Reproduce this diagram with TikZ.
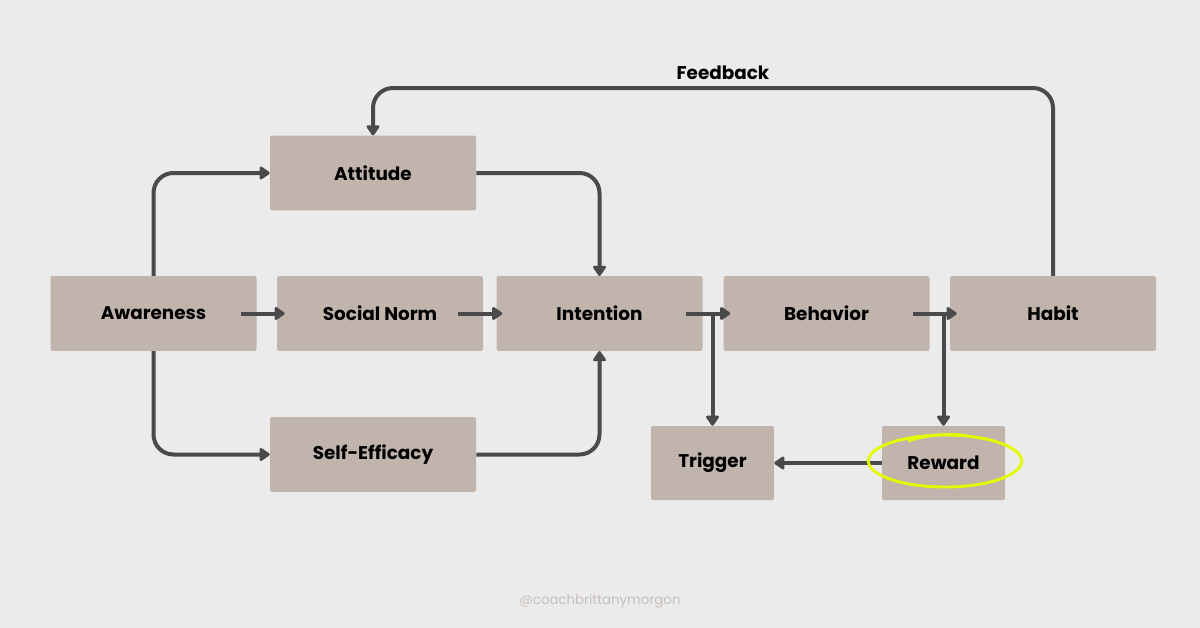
\documentclass[tikz,border=0pt]{standalone}
\usepackage{fontspec}
\setmainfont{Poppins}
\usetikzlibrary{arrows.meta,calc}
\definecolor{bg}{HTML}{EBEBEB}
\definecolor{boxc}{HTML}{C0B4AC}
\definecolor{linec}{HTML}{4A4A4A}
\definecolor{hl}{HTML}{E4FA00}
\definecolor{wm}{HTML}{C9BFB9}
\begin{document}
\begin{tikzpicture}[x=0.75pt,y=-0.75pt,
  box/.style={fill=boxc,rounded corners=1.5pt,minimum width=154.5pt,minimum height=56pt,inner sep=0pt,font=\bfseries\fontsize{13.8}{15}\selectfont,text=black},
  sbox/.style={box,minimum width=92.25pt,minimum height=55.5pt},
  conn/.style={draw=linec,line width=3pt,rounded corners=15pt,-{Triangle[length=8.5pt,width=11pt,round]}},
  plain/.style={draw=linec,line width=3pt,rounded corners=15pt}]
\path[fill=bg,use as bounding box] (0,0) rectangle (1200,628);
\node[box] (att) at (373,173) {Attitude};
\node[box] (aw) at (153.5,313.5) {Awareness};
\node[box] (sn) at (380,313.5) {Social Norm};
\node[box] (int) at (599.5,313.5) {Intention};
\node[box] (beh) at (826.5,313.5) {Behavior};
\node[box] (hab) at (1053,313.5) {Habit};
\node[box] (se) at (373,454.5) {Self-Efficacy};
\node[sbox] (trig) at (712.5,463) {Trigger};
\node[sbox] (rew) at (943.5,463) {Reward};
\node[font=\bfseries\fontsize{13.8}{15}\selectfont,text=black] (fbl) at (723,73) {Feedback};
\coordinate (fb) at (723,88);
\node[font=\fontsize{10}{12}\selectfont,text=wm] (wmk) at (600,601) {@coachbrittanymorgon};
% connectors
\draw[conn] (aw.north) |- (att.west);
\draw[conn] (aw.south) |- (se.west);
\draw[conn] ($(aw.east)+(-16,0)$) -- ($(sn.west)+(8,0)$);
\draw[conn] ($(sn.east)+(-25,0)$) -- ($(int.west)+(6,0)$);
\draw[conn] (att.east) -| (int.north);
\draw[conn] (se.east) -| (int.south);
\draw[conn] ($(int.east)+(-17,0)$) -- ($(beh.west)+(7,0)$);
\draw[conn] (trig.north |- int.east) -- (trig.north);
\draw[conn] ($(beh.east)+(-17,0)$) -- ($(hab.west)+(7,0)$);
\draw[conn] (rew.north |- beh.east) -- (rew.north);
\draw[conn] (rew.west) -- (trig.east);
\draw[conn] (hab.north) -- (hab.north |- fb) -- (att.north |- fb) -- (att.north);
% highlight
\draw[hl,line width=2.2pt] (945,461) ellipse [x radius=57.5pt,y radius=19.5pt];
\draw[hl,line width=2pt] (908,441) .. controls (930,434) and (955,433) .. (968,436);
\end{tikzpicture}
\end{document}
